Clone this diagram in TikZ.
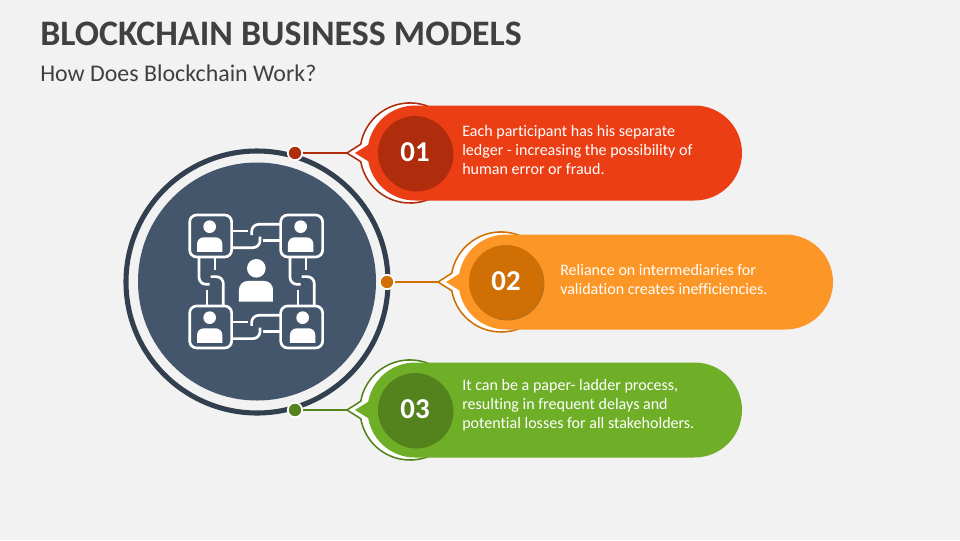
\documentclass[tikz,border=0pt]{standalone}
\usepackage{fontspec}
\setmainfont[Ligatures=NoCommon]{Carlito}
\usepackage{tikz}
\definecolor{pagebg}{HTML}{F2F2F2}
\definecolor{titlegray}{HTML}{404040}
\definecolor{discblue}{HTML}{44566C}
\definecolor{ringblue}{HTML}{323F4F}
\definecolor{redfill}{HTML}{EB3E14}
\definecolor{reddark}{HTML}{AF2C0C}
\definecolor{orangefill}{HTML}{FC9626}
\definecolor{orangedark}{HTML}{D07004}
\definecolor{greenfill}{HTML}{6FAF28}
\definecolor{greendark}{HTML}{54831E}
\tikzset{
x=0.025cm, % one unit is one pixel of the slide
y=-0.025cm, % y runs downwards, as on the slide
dot/.style={circle, draw=white, line width=1.2pt, minimum size=0.36cm, inner sep=0pt},
numdisc/.style={circle, minimum size=1.85cm, inner sep=0pt, text=white, font=\fontsize{20.5}{24}\selectfont\bfseries},
calltext/.style={anchor=west, inner sep=0pt, align=left, text=white, font=\fontsize{11.4}{13.5}\selectfont},
iconline/.style={draw=white, line width=1.9pt},
}
% one head and shoulders of the icon
\newcommand{\person}[2]{
  \fill[white] (#1,#2) circle[radius=19];
  \fill[white] (#1-38,#2+76) -- (#1-38,#2+52) arc[start angle=180, end angle=270, radius=20]
    -- (#1+18,#2+32) arc[start angle=-90, end angle=0, radius=20] -- (#1+38,#2+76) -- cycle;
}
% two links between a pair of boxes side by side, and two above each other
\newcommand{\linksacross}[1]{
  \draw[iconline] (158,#1+78) -- (207,#1+78);
  \draw[iconline, rounded corners=5pt] (305,#1+58) -- (218,#1+58) -- (218,#1+90);
  \draw[iconline, rounded corners=5pt] (158,#1+128) -- (243,#1+128) -- (243,#1+95);
  \draw[iconline] (305,#1+107) -- (253,#1+107);
}
\newcommand{\linksdown}[1]{
  \draw[iconline, rounded corners=5pt] (#1+60,156) -- (#1+60,238) -- (#1+92,238);
  \draw[iconline] (#1+108,156) -- (#1+108,195);
  \draw[iconline] (#1+84,255) -- (#1+84,303);
  \draw[iconline, rounded corners=5pt] (#1+95,215) -- (#1+133,215) -- (#1+133,303);
}
% name, place of the number disc, fill, dark colour, number
\newcommand{\callout}[5]{
  \begin{scope}[shift={#2}]
    \draw[#4, fill=white, line width=1.1pt] (14.9,-45.9) arc[start angle=-66.5, end angle=-170, radius=50]
      -- (-68,0) coordinate (tip#1) -- (-54.2,8.7) arc[start angle=170, end angle=66.5, radius=50];
    \fill[#3] (0,-47.5) -- (279.5,-47.5) arc[start angle=-90, end angle=90, radius=47.5]
      -- (0,47.5) arc[start angle=90, end angle=170, radius=47.5]
      -- (-60,0) -- (-46.8,-8.2) arc[start angle=190, end angle=270, radius=47.5] -- cycle;
    \fill[black, opacity=0.25] (1.5,1.5) circle[radius=37];
    \node[numdisc, fill=#4] (num#1) at (0,0) {\raisebox{1.6pt}{#5}};
  \end{scope}
}

\begin{document}
\begin{tikzpicture}
\useasboundingbox (0,0) rectangle (960,540);
\fill[pagebg] (0,0) rectangle (960,540);

\node[anchor=west, inner sep=0pt, text=titlegray, font=\fontsize{25.5}{28}\selectfont\bfseries] (title) at (40,34) {BLOCKCHAIN BUSINESS MODELS};
\node[anchor=west, inner sep=0pt, text=titlegray, font=\fontsize{17}{20}\selectfont] (subtitle) at (40,73.5) {How Does Blockchain Work?};

% big disc with its ring
\draw[ringblue, line width=3.6pt] (257,282) circle[radius=131];
\fill[discblue] (257,281.5) circle[radius=119];

% icon
\begin{scope}[shift={(179,205)}, scale=0.3333]
  \draw[iconline, rounded corners=5pt] (32,30) rectangle (158,156);
  \draw[iconline, rounded corners=5pt] (305,30) rectangle (431,156);
  \draw[iconline, rounded corners=5pt] (32,303) rectangle (158,429);
  \draw[iconline, rounded corners=5pt] (305,303) rectangle (431,429);
  \linksacross{0}
  \linksacross{273}
  \linksdown{0}
  \linksdown{273}
  \person{92}{65}
  \person{365}{65}
  \person{92}{338}
  \person{371}{338}
  \fill[white] (232,190) circle[radius=28];
  \fill[white] (180,290) -- (180,254) arc[start angle=180, end angle=270, radius=26]
    -- (256,228) arc[start angle=-90, end angle=0, radius=26] -- (282,290) -- cycle;
\end{scope}

% callouts
\callout{A}{(415,153)}{redfill}{reddark}{01}
\callout{B}{(506,282)}{orangefill}{orangedark}{02}
\callout{C}{(415,410)}{greenfill}{greendark}{03}

\node[dot, fill=reddark] (dotA) at (295,153) {};
\node[dot, fill=orangedark] (dotB) at (387,282) {};
\node[dot, fill=greendark] (dotC) at (295,410) {};

\draw[reddark, line width=1.5pt] (dotA) -- (tipA);
\draw[orangedark, line width=1.5pt] (dotB) -- (tipB);
\draw[greendark, line width=1.5pt] (dotC) -- (tipC);

\node[calltext] (textA) at (462,150) {Each participant has his separate\\ledger - increasing the possibility of\\human error or fraud.};
\node[calltext] (textB) at (560,279.5) {Reliance on intermediaries for\\validation creates inefficiencies.};
\node[calltext] (textC) at (462,405.5) {It can be a paper- ladder process,\\resulting in frequent delays and\\potential losses for all stakeholders.};
\end{tikzpicture}
\end{document}
